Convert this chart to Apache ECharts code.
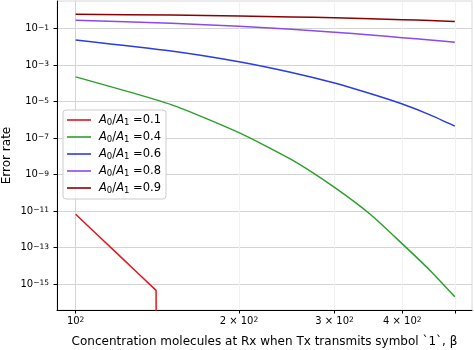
<!DOCTYPE html>
<html>
<head>
<meta charset="utf-8">
<script src="https://cdn.jsdelivr.net/npm/echarts@6/dist/echarts.min.js"></script>
<style>
  html, body { margin: 0; padding: 0; background: #fff; }
  #main { width: 474px; height: 350px; }
</style>
</head>
<body>
<div id="main"></div>
<script>
// concentration beta, shared by the four upper curves
const beta = [100, 150, 200, 250, 300, 350, 400, 450, 500];
const err04 = [2.29e-4, 6.9e-6, 2.0e-7, 6.6e-9, 2.0e-10, 6.3e-12, 1.6e-13, 5.6e-15, 2.0e-16];
const err06 = [2.43e-2, 6.0e-3, 1.55e-3, 3.98e-4, 1.05e-4, 2.69e-5, 7.4e-6, 1.9e-6, 4.57e-7];
const err08 = [0.292, 0.200, 0.136, 0.093, 0.0646, 0.0452, 0.0324, 0.024, 0.0182];
const err09 = [0.624, 0.556, 0.495, 0.442, 0.394, 0.351, 0.313, 0.279, 0.248];
// A0/A1 = 0.1 falls to zero just after ~141
const betaLow = [100, 110, 120, 130, 140.7, 141];
const err01 = [6.8e-12, 4.6e-13, 4.0e-14, 4.2e-15, 4.5e-16, 1e-30];

const ratios = ["0.1", "0.4", "0.6", "0.8", "0.9"];
const colors = ["#e3141c", "#2ca02c", "#2a3ce6", "#8a4af0", "#8b0000"];
const xTicks = [100, 200, 300, 400, 500];
const xLabels = [100, 200, 300, 400];
const yTicks = [1e-15, 1e-13, 1e-11, 1e-9, 1e-7, 1e-5, 1e-3, 1e-1];

function pairs(xs, ys) {
  return xs.map((x, i) => [x, ys[i]]);
}
const curves = [pairs(betaLow, err01), pairs(beta, err04), pairs(beta, err06), pairs(beta, err08), pairs(beta, err09)];

const font = "DejaVu Sans";
const supStyle = { fontSize: 7.5, fontFamily: font, color: "#000", verticalAlign: "top", lineHeight: 4 };

var myChart = echarts.init(document.getElementById("main"), null, { renderer: "canvas" });

const option = {
  animation: false,
  grid: {
    left: 57, right: 2, top: 1, bottom: 40,
    containLabel: false,
    outerBoundsMode: "none",
    show: true, borderColor: "#d8d8d8", borderWidth: 1
  },
  legend: {
    orient: "vertical",
    left: 63, top: 110,
    padding: [4, 5, 4, 4],
    itemGap: 4,
    itemWidth: 24,
    itemHeight: 1.6,
    icon: "rect",
    backgroundColor: "rgba(255,255,255,0.8)",
    borderColor: "#cccccc",
    borderWidth: 1,
    borderRadius: 3,
    data: ratios.map(r => "A0/A1 =" + r),
    formatter: function (name) {
      return "{g|}{i|A}{sub|0}{n|/}{i|A}{sub|1}{n| =" + name.split("=")[1] + "}";
    },
    textStyle: {
      padding: [0, 0, 0, 0],
      rich: {
        g: { width: 3, lineHeight: 14 },
        i: { fontFamily: font, fontStyle: "italic", fontSize: 11.5, color: "#000", lineHeight: 14 },
        n: { fontFamily: font, fontSize: 11.5, color: "#000", lineHeight: 14 },
        sub: { fontFamily: font, fontSize: 8.5, color: "#000", verticalAlign: "bottom", lineHeight: 9 }
      }
    }
  },
  xAxis: {
    type: "log",
    logBase: 10,
    min: 92.4,
    max: 537.7,
    name: "Concentration molecules at Rx when Tx transmits symbol `1`, \u03b2",
    nameLocation: "middle",
    nameGap: 26,
    nameMoveOverlap: false,
    nameTextStyle: { fontFamily: font, fontSize: 12, color: "#000" },
    axisLine: { show: true, onZero: false, lineStyle: { color: "#000", width: 1 } },
    axisTick: { show: true, length: 3.5, customValues: xTicks, lineStyle: { color: "#000" } },
    axisLabel: {
      customValues: xLabels,
      margin: 6,
      fontFamily: font,
      fontSize: 10,
      color: "#000",
      formatter: function (v) {
        const m = Math.round(v / 100);
        return m === 1 ? "10{sup|2}" : m + " \u00d7 10{sup|2}";
      },
      rich: { sup: supStyle }
    },
    splitLine: {
      show: true,
      lineStyle: { color: ["#d4d4d4", "#f1f1f1", "#f1f1f1", "#f1f1f1", "#f1f1f1"], width: 1 }
    }
  },
  yAxis: {
    type: "log",
    logBase: 10,
    min: 3.8e-17,
    max: 3.3,
    name: "Error rate",
    nameLocation: "middle",
    nameGap: 44,
    nameMoveOverlap: false,
    nameTextStyle: { fontFamily: font, fontSize: 12, color: "#000" },
    axisLine: { show: true, onZero: false, lineStyle: { color: "#000", width: 1 } },
    axisTick: { show: true, length: 3.5, customValues: yTicks, lineStyle: { color: "#000" } },
    axisLabel: {
      customValues: yTicks,
      margin: 8,
      fontFamily: font,
      fontSize: 10,
      color: "#000",
      formatter: function (v) {
        return "10{sup|\u2212" + Math.round(-Math.log10(v)) + "}";
      },
      rich: { sup: supStyle }
    },
    splitLine: { show: true, lineStyle: { color: "#d4d4d4", width: 1 } }
  },
  series: ratios.map((r, i) => ({
    name: "A0/A1 =" + r,
    type: "line",
    data: curves[i],
    showSymbol: false,
    symbol: "none",
    clip: true,
    smooth: i === 0 ? false : 0.2,
    lineStyle: { color: colors[i], width: 1.5 },
    itemStyle: { color: colors[i] }
  }))
};

myChart.setOption(option);
window.onresize = function () {
  myChart.resize();
};
</script>
</body>
</html>
